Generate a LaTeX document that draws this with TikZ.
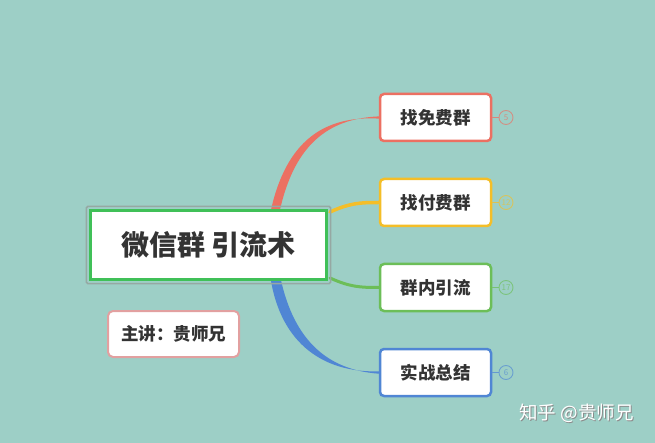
\documentclass[tikz,border=0pt]{standalone}
\usepackage{fontspec}
\setmainfont{Noto Sans CJK SC}
\usetikzlibrary{backgrounds}

\definecolor{bgteal}{RGB}{157,207,198}
\definecolor{ink}{RGB}{51,51,51}
\definecolor{rimgray}{RGB}{150,168,163}
\definecolor{maingreen}{RGB}{64,192,88}
\definecolor{redbr}{RGB}{236,112,98}
\definecolor{yellowbr}{RGB}{244,190,40}
\definecolor{greenbr}{RGB}{108,190,88}
\definecolor{bluebr}{RGB}{80,134,212}
\definecolor{pinkbr}{RGB}{226,160,160}

\begin{document}
\begin{tikzpicture}[x=1pt, y=-1pt,
    topic/.style={draw=#1, line width=2.5pt, rounded corners=4pt, fill=white,
      minimum width=111pt, minimum height=47pt, text=ink,
      font=\fontsize{17.5}{20}\selectfont\bfseries},
    badge/.style={circle, draw=#1!65!bgteal, line width=0.9pt, minimum size=14pt,
      inner sep=0pt, text=#1!65!bgteal, font=\fontsize{8}{9}\selectfont},
    branch/.style={line cap=round, line width=#1}
  ]
  \useasboundingbox (0,0) rectangle (655,443);

  % central topic
  \node[draw=maingreen, line width=3pt, fill=white, minimum width=236pt, minimum height=69pt,
    text=ink, font=\fontsize{28}{31}\selectfont\bfseries] (main) at (208.5,245) {微信群 引流术};
  \draw[rimgray, line width=1.6pt, rounded corners=1.5pt] ([shift={(-2.6,-2.6)}]main.north west) rectangle ([shift={(2.6,2.6)}]main.south east);

  \node[draw=pinkbr, line width=2pt, rounded corners=5pt, fill=white, minimum width=131pt,
    minimum height=46pt, text=ink, font=\fontsize{17.5}{20}\selectfont\bfseries] (speaker) at (173.5,334) {主讲：贵师兄};

  % subtopics with counters
  \foreach \n/\y/\col/\txt/\num in {c1/117.5/redbr/找免费群/5, c2/202.5/yellowbr/找付费群/12,
      c3/287.5/greenbr/群内引流/17, c4/372.5/bluebr/实战总结/6} {
    \node[topic=\col] (\n) at (435.5,\y) {\txt};
    \node[badge=\col] (\n b) at (506,\y) {\num};
    \draw[\col!75!bgteal, line width=1.3pt] (\n.east) -- (\n b.west);
  }

  \node[text=black!45, font=\fontsize{18.5}{21}\selectfont] (markshadow) at (577.5,414) {知乎 @贵师兄};
  \node[text=white, font=\fontsize{18.5}{21}\selectfont] (mark) at (576.5,413) {知乎 @贵师兄};

  \begin{scope}[on background layer]
    \fill[bgteal] (0,0) rectangle (655,443);
    % tapered branches
    \fill[redbr] ([shift={(62,3)}]main.north) .. controls (286,140) and (325,115.5) .. ([yshift=-1.1]c1.west)
      -- ([yshift=1.1]c1.west) .. controls (328,118.5) and (294,145) .. ([shift={(71,3)}]main.north) -- cycle;
    \fill[bluebr] ([shift={(62,-3)}]main.south) .. controls (281,345) and (325,373) .. ([yshift=1.2]c4.west)
      -- ([yshift=-1.2]c4.west) .. controls (328,370) and (294,341) .. ([shift={(72,-3)}]main.south) -- cycle;
    \draw[yellowbr, branch=3.5pt] ([shift={(2,3)}]main.north east) .. controls (350,203) and (360,202.5) .. (c2.west);
    \draw[greenbr, branch=3pt] ([shift={(2,-3)}]main.south east) .. controls (350,287) and (360,287.5) .. (c3.west);
  \end{scope}
\end{tikzpicture}
\end{document}
